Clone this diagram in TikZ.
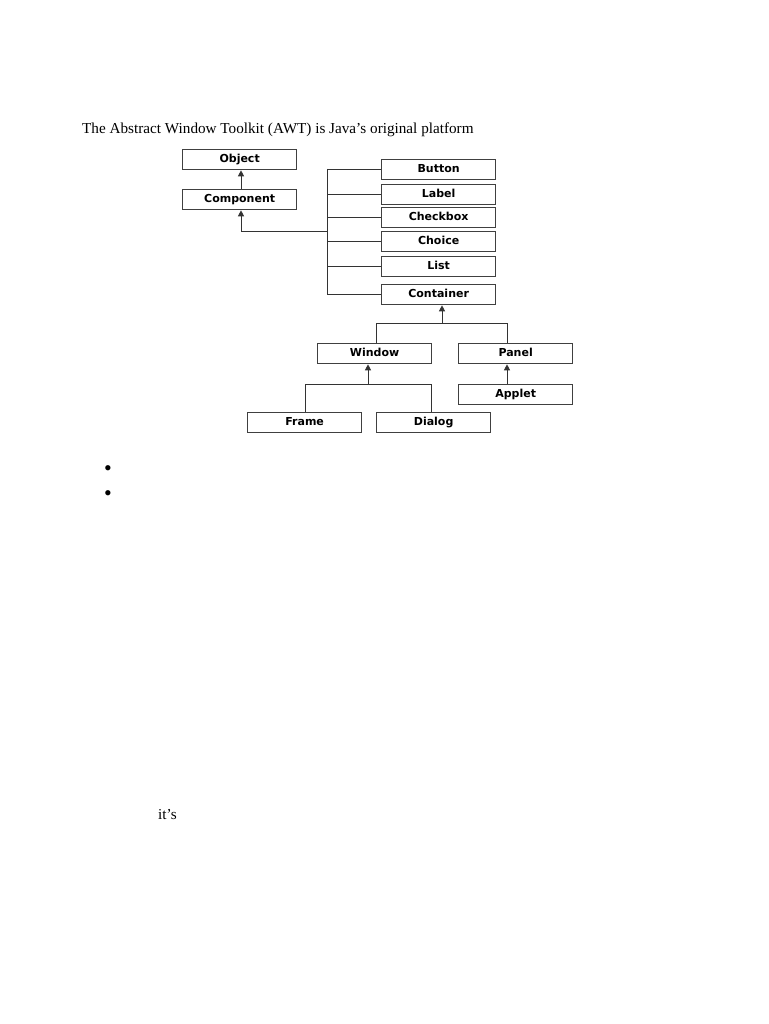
\documentclass[tikz,border=0pt]{standalone}
\usepackage{fontspec}
\setmainfont{Liberation Serif}
\newfontfamily\boxfont{DejaVu Sans}
\usetikzlibrary{arrows.meta}
\begin{document}
\begin{tikzpicture}[x=1pt,y=-1pt,
  cls/.style={draw=black!75, line width=1.3pt, minimum width=114pt, minimum height=20pt,
    inner sep=0pt, font=\boxfont\bfseries\fontsize{11}{12}\selectfont, text depth=0pt, anchor=north west},
  ln/.style={draw=black!80, line width=0.9pt},
  arr/.style={ln, -{Triangle[width=6pt,length=6pt]}},
  txt/.style={font=\fontsize{15.2}{18}\selectfont, anchor=base west, inner sep=0pt},
  bul/.style={font=\fontsize{22}{24}\selectfont, inner sep=0pt}]
\useasboundingbox (0,0) rectangle (768,1024);
\fill[white] (0,0) rectangle (768,1024);
\node[txt] (title) at (82,134) {The Abstract Window Toolkit (AWT) is Java’s original platform};
% boxes
\node[cls] (object) at (182,149) {\raisebox{2.5pt}{Object}};
\node[cls] (component) at (182,189) {\raisebox{2.5pt}{Component}};
\node[cls] (button) at (381,159) {\raisebox{2.5pt}{Button}};
\node[cls] (label) at (381,184) {\raisebox{2.5pt}{Label}};
\node[cls] (checkbox) at (381,207) {\raisebox{2.5pt}{Checkbox}};
\node[cls] (choice) at (381,231) {\raisebox{2.5pt}{Choice}};
\node[cls] (list) at (381,256) {\raisebox{2.5pt}{List}};
\node[cls] (container) at (381,284) {\raisebox{2.5pt}{Container}};
\node[cls] (window) at (317,343) {\raisebox{2.5pt}{Window}};
\node[cls] (panel) at (458,343) {\raisebox{2.5pt}{Panel}};
\node[cls] (applet) at (458,384) {\raisebox{2.5pt}{Applet}};
\node[cls] (frame) at (247,412) {\raisebox{2.5pt}{Frame}};
\node[cls] (dialog) at (376,412) {\raisebox{2.5pt}{Dialog}};
% junction coordinates
\coordinate (trunkTop) at (327,169);
\coordinate (trunkBot) at (327,294);
\coordinate (trunkJ) at (327,231);
\coordinate (compJ) at (241,231);
\coordinate (contJ) at (442,323);
\coordinate (winJ) at (368,384);
% Object <- Component
\draw[arr] (component.north -| compJ) -- (object.south -| compJ);
% trunk
\draw[ln] (trunkTop) -- (trunkBot);
\foreach \n in {button,label,checkbox,choice,list}
  \draw[ln] (trunkTop |- \n.west) -- (\n.west);
\draw[ln] (trunkBot) -- (trunkBot -| container.west);
\draw[arr] (trunkJ) -- (compJ) -- (component.south -| compJ);
% Container children
\draw[ln] (window.north -| 376,0) -- (376,323) -- (507,323) -- (panel.north -| 507,0);
\draw[arr] (contJ) -- (container.south -| contJ);
% Window children
\draw[ln] (frame.north -| 305,0) -- (305,384) -- (431,384) -- (dialog.north -| 431,0);
\draw[arr] (winJ) -- (window.south -| winJ);
% Panel <- Applet
\draw[arr] (applet.north -| 507,0) -- (panel.south -| 507,0);
% bullets
\node[bul] (b1) at (108,471) {•};
\node[bul] (b2) at (108,496) {•};
\node[txt] (its) at (158,819) {it’s};
\end{tikzpicture}
\end{document}
